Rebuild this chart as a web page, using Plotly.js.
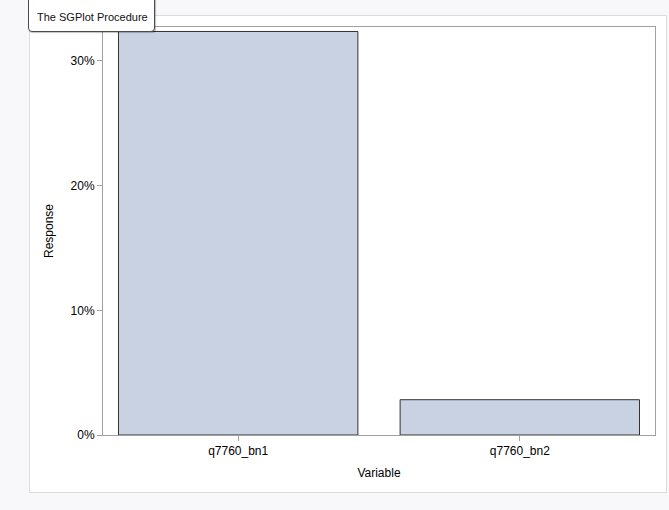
<!DOCTYPE html>
<html>
<head>
<meta charset="utf-8">
<script src="https://cdn.plot.ly/plotly-3.0.1.min.js"></script>
<style>
  html, body { margin:0; padding:0; width:669px; height:510px; overflow:hidden; background:#f8f8fb; }
  #panel { position:absolute; left:29px; top:15px; width:636px; height:476px; background:#ffffff; border:1px solid #dcdcdc; }
  #chart { position:absolute; left:0; top:0; width:669px; height:510px; }
  #label { position:absolute; left:28px; top:-12px; width:127px; height:44px; background:#ffffff;
           border:1px solid #4a4a4a; border-radius:4px; box-shadow:1px 1px 1px rgba(0,0,0,0.25);
           font-family:"Liberation Sans", Arial, sans-serif; font-size:11px; color:#111;
           box-sizing:border-box; padding-top:22px; padding-left:8px; white-space:nowrap; }
</style>
</head>
<body>
<div id="panel"></div>
<div id="chart"></div>
<div id="label">The SGPlot Procedure</div>
<script>
const categories = ['q7760_bn1', 'q7760_bn2'];
const responsePct = [32.36, 2.83];
const yTickVals = [0, 10, 20, 30];
const yTickText = ['0%', '10%', '20%', '30%'];

const font = { family: '"Liberation Sans", Arial, sans-serif', size: 12, color: '#000' };

const data = [{
  type: 'bar',
  x: categories,
  y: responsePct,
  width: 0.85,
  marker: { color: '#c8d2e3', line: { color: '#333333', width: 1 } },
  hoverinfo: 'x+y'
}];

const layout = {
  width: 669, height: 510,
  margin: { l: 103, r: 14, t: 27, b: 75, pad: 0 },
  paper_bgcolor: 'rgba(0,0,0,0)',
  plot_bgcolor: '#ffffff',
  font: font,
  showlegend: false,
  bargap: 0.15,
  xaxis: {
    type: 'category',
    range: [-0.48, 1.48],
    showline: true, mirror: true, linecolor: '#a0a0a0', linewidth: 1,
    ticks: 'outside', ticklen: 5, tickcolor: '#a0a0a0',
    showgrid: false, zeroline: false,
    tickfont: font,
    title: { text: 'Variable', font: font, standoff: 11 },
    automargin: false
  },
  yaxis: {
    range: [0, 32.72],
    tickvals: yTickVals, ticktext: yTickText,
    showline: true, mirror: true, linecolor: '#a0a0a0', linewidth: 1,
    ticks: 'outside', ticklen: 5, tickcolor: '#a0a0a0',
    showgrid: false, zeroline: false,
    tickfont: font,
    title: { text: 'Response', font: font, standoff: 14 },
    automargin: false
  }
};

Plotly.newPlot('chart', data, layout, { displayModeBar: false, staticPlot: false });
</script>
</body>
</html>
